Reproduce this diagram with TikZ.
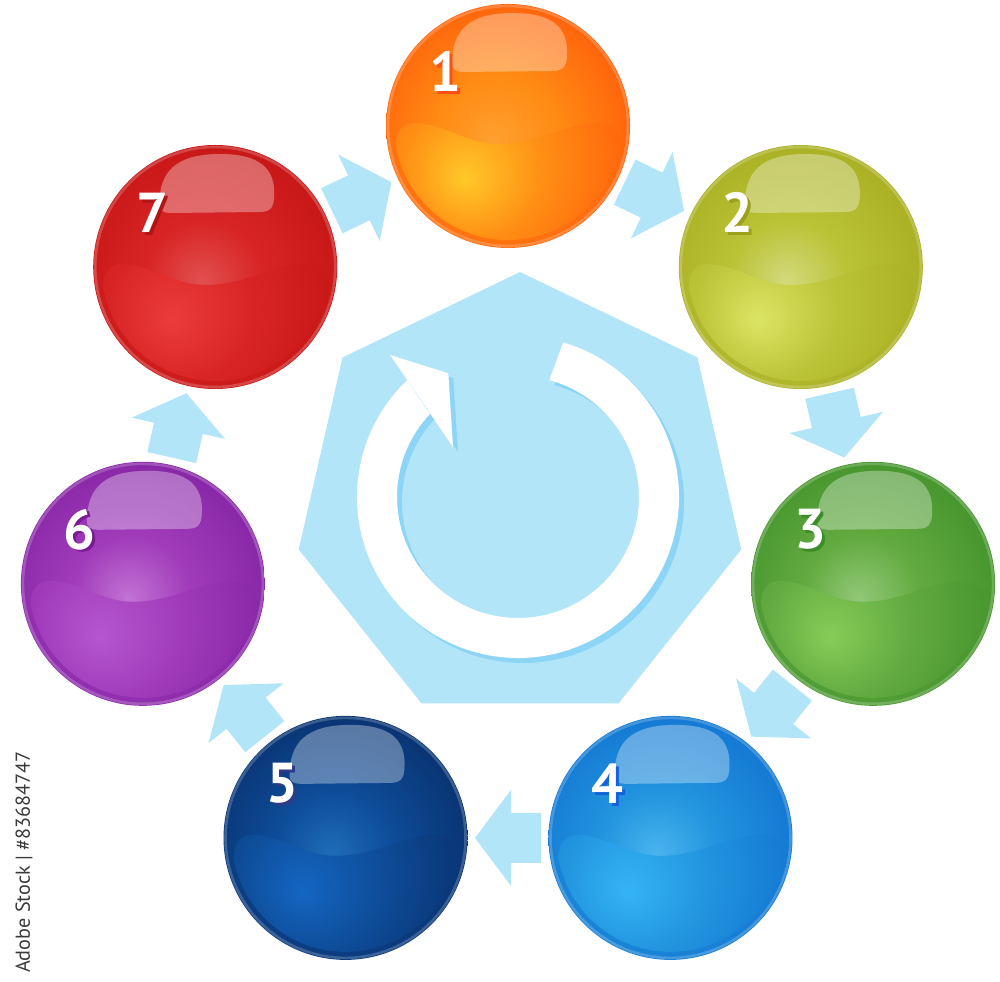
\documentclass[tikz,border=0pt]{standalone}
\usepackage{fontspec}
\newfontfamily\numfont{PT Sans}
\newfontfamily\markfont{PT Sans}
\usetikzlibrary{calc}
\definecolor{flowblue}{HTML}{B3E5F8}
\definecolor{turnshadow}{HTML}{8DD5F7}
\definecolor{markgray}{HTML}{3A3A3A}
\definecolor{c1glow}{HTML}{FFC828}\definecolor{c1base}{HTML}{FF8C14}\definecolor{c1dark}{HTML}{FF5A0A}\definecolor{c1light}{HTML}{FFA030}\definecolor{c1num}{HTML}{FF5014}
\definecolor{c2glow}{HTML}{DCE464}\definecolor{c2base}{HTML}{BAC236}\definecolor{c2dark}{HTML}{A6AC20}\definecolor{c2light}{HTML}{D4DA7C}\definecolor{c2num}{HTML}{9CA01A}
\definecolor{c3glow}{HTML}{86CC58}\definecolor{c3base}{HTML}{62AA40}\definecolor{c3dark}{HTML}{40902A}\definecolor{c3light}{HTML}{92C878}\definecolor{c3num}{HTML}{3C8C28}
\definecolor{c4glow}{HTML}{34B4F6}\definecolor{c4base}{HTML}{2294DE}\definecolor{c4dark}{HTML}{1072D0}\definecolor{c4light}{HTML}{48B4EE}\definecolor{c4num}{HTML}{1464D8}
\definecolor{c5glow}{HTML}{1466C2}\definecolor{c5base}{HTML}{0E4C98}\definecolor{c5dark}{HTML}{082E6A}\definecolor{c5light}{HTML}{1E6CB8}\definecolor{c5num}{HTML}{2E3C86}
\definecolor{c6glow}{HTML}{B656D0}\definecolor{c6base}{HTML}{A03CBA}\definecolor{c6dark}{HTML}{8222A2}\definecolor{c6light}{HTML}{C272D4}\definecolor{c6num}{HTML}{7A1A92}
\definecolor{c7glow}{HTML}{EC3C3C}\definecolor{c7base}{HTML}{D82424}\definecolor{c7dark}{HTML}{C41414}\definecolor{c7light}{HTML}{E25050}\definecolor{c7num}{HTML}{B01414}
\pgfdeclareradialshading[orblight,orbbase,orbdark]{orbbody}{\pgfpoint{-3bp}{-3bp}}{color(0bp)=(orblight);color(12bp)=(orbbase);color(31bp)=(orbdark);color(60bp)=(orbdark)}
\pgfdeclareradialshading[orbglow,orbbase,orbdark]{orbband}{\pgfpoint{-9bp}{-11bp}}{color(0bp)=(orbglow);color(15bp)=(orbbase);color(34bp)=(orbdark);color(70bp)=(orbdark)}
\tikzset{
  orb/.style={circle,minimum size=4.88cm,inner sep=0pt},
  orbnum/.style={font=\numfont\bfseries\fontsize{32}{32}\selectfont,inner sep=0pt,text=white},
  flow/.style={fill=flowblue},
}
\newcommand{\orbdigit}[2]{\makebox[0pt][l]{\kern1.7pt\raisebox{-1.7pt}{\textcolor{#2}{#1}}}#1}

\begin{document}
\begin{tikzpicture}[x=0.02cm,y=0.02cm]
	\useasboundingbox (0,0) rectangle (1000,982);
	\coordinate (ring) at (508,481.5);
	\coordinate (hub) at (520,483);
	\coordinate (turn) at (518,485);

	\fill[flowblue,shift={(hub)}] (90:227) \foreach \i in {1,...,6}{ -- (90+\i*360/7:227)} -- cycle;

	% circular arrow with its shadow
	\foreach \c/\dx/\dy in {turnshadow/5/-5,white/0/0}{
		\fill[\c,shift={($(turn)+(\dx,\dy)$)}] (73.7:161) arc[start angle=73.7,end angle=-226.5,radius=161] -- (-223.3:121) arc[start angle=-223.3,end angle=75,radius=121] -- cycle;
		\fill[\c,shift={($(turn)+(\dx,\dy)$)}] (132:191) -- (119.4:142) -- (142.4:82) -- cycle;
	}

	\foreach \k [evaluate=\k as \b using {90-(\k-1)*360/7}] in {1,...,7}
		\node[orb] (s\k) at ($(ring)+(\b:374.5)$) {};

	\foreach \k [evaluate=\k as \n using {int(mod(\k,7)+1)}, evaluate=\k as \a using {64.2857-(\k-1)*360/7}] in {1,...,7}
		\fill[flow,shift={($(s\k)!0.5!(s\n)$)},rotate=\a-90] (33,0) -- (-3,48) -- (-3,25) -- (-33,25) -- (-33,-25) -- (-3,-25) -- (-3,-48) -- cycle;

	\foreach \k in {1,...,7}{
		\colorlet{orbglow}{c\k glow}\colorlet{orbbase}{c\k base}\colorlet{orbdark}{c\k dark}\colorlet{orblight}{c\k light}
		\begin{scope}[shift={(s\k.center)}]
			\shade[shading=orbbody] (0,0) circle (122);
			\begin{scope}
				\clip (-112,-20) .. controls (-112,0) and (-100,4) .. (-90,3) .. controls (-60,0) and (-40,-18) .. (-10,-18) .. controls (30,-18) and (60,3) .. (88,3) .. controls (105,3) and (113,-6) .. (112.3,-19.8) arc[start angle=-10,end angle=-170,radius=114] -- cycle;
				\shade[shading=orbband] (0,0) circle (122);
			\end{scope}
			\draw[white,opacity=.2,line width=1.5pt] (0,0) circle (120);
			\fill[white,opacity=.33] (-56,62) .. controls (-56,95) and (-40,113) .. (5,113) .. controls (45,113) and (60,98) .. (59,72) .. controls (59,58) and (54,55) .. (44,55) -- (-45,54) .. controls (-52,54) and (-56,57) .. (-56,62) -- cycle;
			\node[orbnum] (num\k) at (-63,53) {\orbdigit{\k}{c\k num}};
		\end{scope}
	}

	\node[font=\markfont\fontsize{11.5}{12}\selectfont,text=markgray,rotate=90] (stockmark) at (24,120) {Adobe Stock | \#83684747};
\end{tikzpicture}
\end{document}
